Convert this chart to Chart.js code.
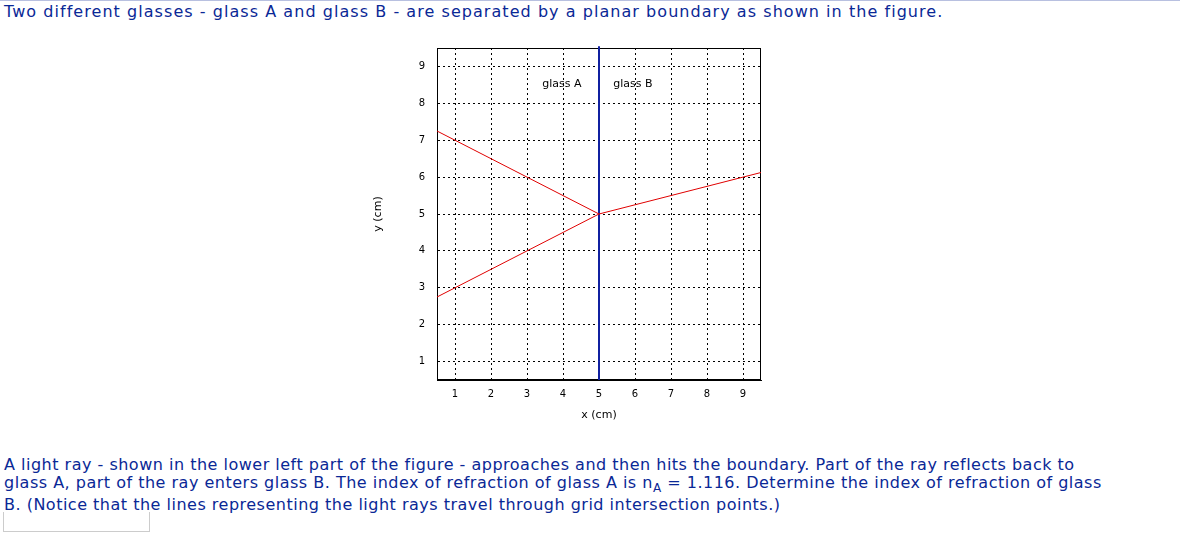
<!DOCTYPE html>
<html><head><meta charset="utf-8">
<script src="https://cdn.jsdelivr.net/npm/chart.js@4"></script>
<style>
body{margin:0;width:1190px;height:535px;position:relative;background:#fff;font-family:"DejaVu Sans",Verdana,sans-serif;color:#0a2896;overflow:hidden}
#top{position:absolute;left:0;top:0;width:1180px;border-top:1px solid #b8c0e0}
#t1{position:absolute;left:4px;top:2px;font-size:16px;letter-spacing:1.05px;white-space:nowrap}
#t2{position:absolute;left:4px;top:456px;font-size:16px;line-height:18px;letter-spacing:0.5px;white-space:nowrap}
#box{position:absolute;left:3px;top:512px;width:145px;height:19px;border:1px solid #ccc;border-top:none}
#wrap{position:absolute;left:370px;top:30px;width:410px;height:400px}
</style></head><body>
<div id="top"></div>
<div id="t1">Two different glasses - glass A and glass B - are separated by a planar boundary as shown in the figure.</div>
<div id="wrap"><canvas id="c" width="410" height="400"></canvas></div>
<div id="t2">A light ray - shown in the lower left part of the figure - approaches and then hits the boundary. Part of the ray reflects back to<br>glass A, part of the ray enters glass B. The index of refraction of glass A is n<sub style="font-size:12px;line-height:0">A</sub> = 1.116. Determine the index of refraction of glass<br><span style="display:inline-block;margin-top:4px">B. (Notice that the lines representing the light rays travel through grid intersection points.)</span></div>
<div id="box"></div>
<script>
const tickVals=[1,2,3,4,5,6,7,8,9];
const incident=[{x:0.5,y:2.75},{x:5,y:5}];
const reflected=[{x:5,y:5},{x:0.5,y:7.25}];
const refracted=[{x:5,y:5},{x:9.5,y:6.125}];
const boundary=[{x:5,y:0.5},{x:5,y:9.55}];
const regionLabels=[{x:3.97,y:8.53,t:"glass A"},{x:5.94,y:8.53,t:"glass B"}];
const ln=(d,c,w)=>({data:d,borderColor:c,borderWidth:w,pointRadius:0,showLine:true,clip:false,fill:false});
const lbl={id:'lbl',afterDatasetsDraw(ch){const c=ch.ctx,xs=ch.scales.x,ys=ch.scales.y;c.save();c.font='11px "DejaVu Sans"';c.fillStyle='#000';c.textAlign='center';c.textBaseline='middle';
regionLabels.forEach(l=>c.fillText(l.t,xs.getPixelForValue(l.x),ys.getPixelForValue(l.y)));c.restore();}};
const ax=(title,fit,pad)=>({type:'linear',min:0.5,max:9.5,afterBuildTicks(s){s.ticks=tickVals.map(v=>({value:v}));},afterFit:fit,
 ticks:{color:'#000',font:{size:10,family:'DejaVu Sans'},padding:pad},
 grid:{color:'#000',lineWidth:1,tickLength:0,drawTicks:false},border:{display:true,color:'#000',width:1,dash:[2,3]},
 title:{display:true,text:title,color:'#000',font:{size:11,family:'DejaVu Sans'},padding:{top:2,bottom:8}}});
const xa=ax('x (cm)',s=>{s.height=50;},8); const ya=ax('y (cm)',s=>{s.width=67;},12);
new Chart(document.getElementById('c'),{type:'scatter',
 data:{datasets:[ln(incident,'#e00000',1),ln(reflected,'#e00000',1),ln(refracted,'#e00000',1),ln(boundary,'#1020a0',2)]},
 options:{responsive:false,animation:false,layout:{padding:{top:15,right:19,left:0,bottom:0}},
 plugins:{legend:{display:false},tooltip:{enabled:false}},scales:{x:xa,y:ya}},
 plugins:[lbl,{id:'frame',beforeDatasetsDraw(ch){const a=ch.chartArea,c=ch.ctx;c.save();c.strokeStyle='#000';c.lineWidth=1;c.strokeRect(a.left+0.5,a.top+0.5,a.right-a.left-1,a.bottom-a.top-1);c.restore();}}]
});
</script></body></html>
